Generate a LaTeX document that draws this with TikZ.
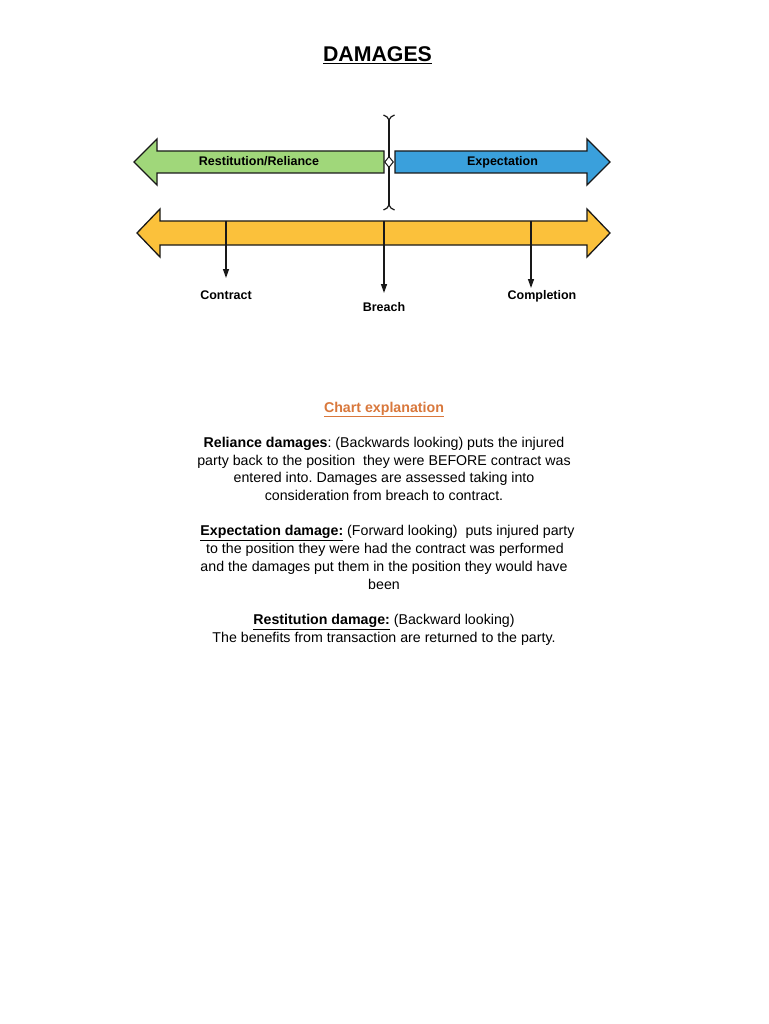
\documentclass[tikz,border=0pt]{standalone}
\usepackage{fontspec}
\setmainfont{Liberation Sans}
\frenchspacing
\usetikzlibrary{arrows.meta,shapes.geometric}
\definecolor{relgreen}{RGB}{160,215,122}
\definecolor{expblue}{RGB}{58,160,220}
\definecolor{lineorange}{RGB}{251,193,59}
\definecolor{headorange}{RGB}{217,120,60}
\definecolor{ink}{RGB}{25,25,25}
\begin{document}
\begin{tikzpicture}[x=1pt,y=-1pt,
 bigarrow/.style={draw=ink,line width=1.3pt,line join=miter},
 lbl/.style={font=\fontsize{12.5}{15}\selectfont\bfseries, inner sep=0pt, anchor=base},
 bodyline/.style={font=\fontsize{14.2}{17.7}\selectfont, anchor=base, inner sep=0pt},
 tick/.style={draw=ink,line width=1.3pt,-{Triangle[length=9pt,width=6pt]}},
 fork/.style={draw=ink,line width=1.2pt}]
\useasboundingbox[fill=white] (0,0) rectangle (768,1024);

% title
\node[anchor=base, inner sep=0pt, font=\fontsize{21.3}{25}\selectfont\bfseries] (title) at (377.5,62) {\underline{DAMAGES}};

% upper arrows
\draw[bigarrow,fill=relgreen] (134,162) -- (157,139) -- (157,151) -- (384,151) -- (384,173) -- (157,173) -- (157,185) -- cycle;
\draw[bigarrow,fill=expblue] (610,162) -- (587,139) -- (587,151) -- (395,151) -- (395,173) -- (587,173) -- (587,185) -- cycle;
\node[lbl] (rr) at (259,165.5) {Restitution/Reliance};
\node[lbl] (ex) at (502.5,165.5) {Expectation};

% divider with forked ends
\coordinate (vt) at (389,120);
\coordinate (vb) at (389,205);
\draw[fork] (vt) -- (vb);
\draw[fork] (383.5,115) .. controls (386,116) and (388.5,117.5) .. (vt) .. controls (389.5,117.5) and (392,116) .. (394.5,115);
\draw[fork] (383.5,210) .. controls (386,209) and (388.5,207.5) .. (vb) .. controls (389.5,207.5) and (392,209) .. (394.5,210);
\node[diamond, draw=ink, fill=white, inner sep=0pt, minimum width=9pt, minimum height=11pt, line width=1pt] (dm) at (389,162) {};

% timeline arrow
\draw[bigarrow,fill=lineorange] (137,233) -- (160,209) -- (160,221) -- (587,221) -- (587,209) -- (610,233) -- (587,257) -- (587,245) -- (160,245) -- (160,257) -- cycle;

% ticks
\coordinate (ct) at (226,221);
\coordinate (ce) at (226,278);
\coordinate (bt) at (384,221);
\coordinate (be) at (384,293);
\coordinate (pt) at (531,221);
\coordinate (pe) at (531,288);
\draw[tick] (ct) -- (ce);
\draw[tick] (bt) -- (be);
\draw[tick] (pt) -- (pe);
\node[lbl] (contract) at (226,299) {Contract};
\node[lbl] (breach) at (384,311) {Breach};
\node[lbl] (completion) at (542,299) {Completion};

% explanation text
\node[bodyline] (h) at (384,412) {\textcolor{headorange}{\underline{\textbf{Chart explanation}}}};
\node[bodyline] (r1) at (384,447.4) {\textbf{Reliance damages}: (Backwards looking) puts the injured};
\node[bodyline] (r2) at (384,465.1) {party back to the position\ \ they were BEFORE contract was};
\node[bodyline] (r3) at (384,482.8) {entered into. Damages are assessed taking into};
\node[bodyline] (r4) at (384,500.5) {consideration from breach to contract.};
\node[bodyline] (e1) at (387.5,535.9) {\underline{\textbf{Expectation damage:}} (Forward looking)\ \ puts injured party};
\node[bodyline] (e2) at (385,553.6) {to the position they were had the contract was performed};
\node[bodyline] (e3) at (384,571.3) {and the damages put them in the position they would have};
\node[bodyline] (e4) at (384,589) {been};
\node[bodyline] (s1) at (384,624.4) {\underline{\textbf{Restitution damage:}} (Backward looking)};
\node[bodyline] (s2) at (384,642.1) {The benefits from transaction are returned to the party.};
\end{tikzpicture}
\end{document}
